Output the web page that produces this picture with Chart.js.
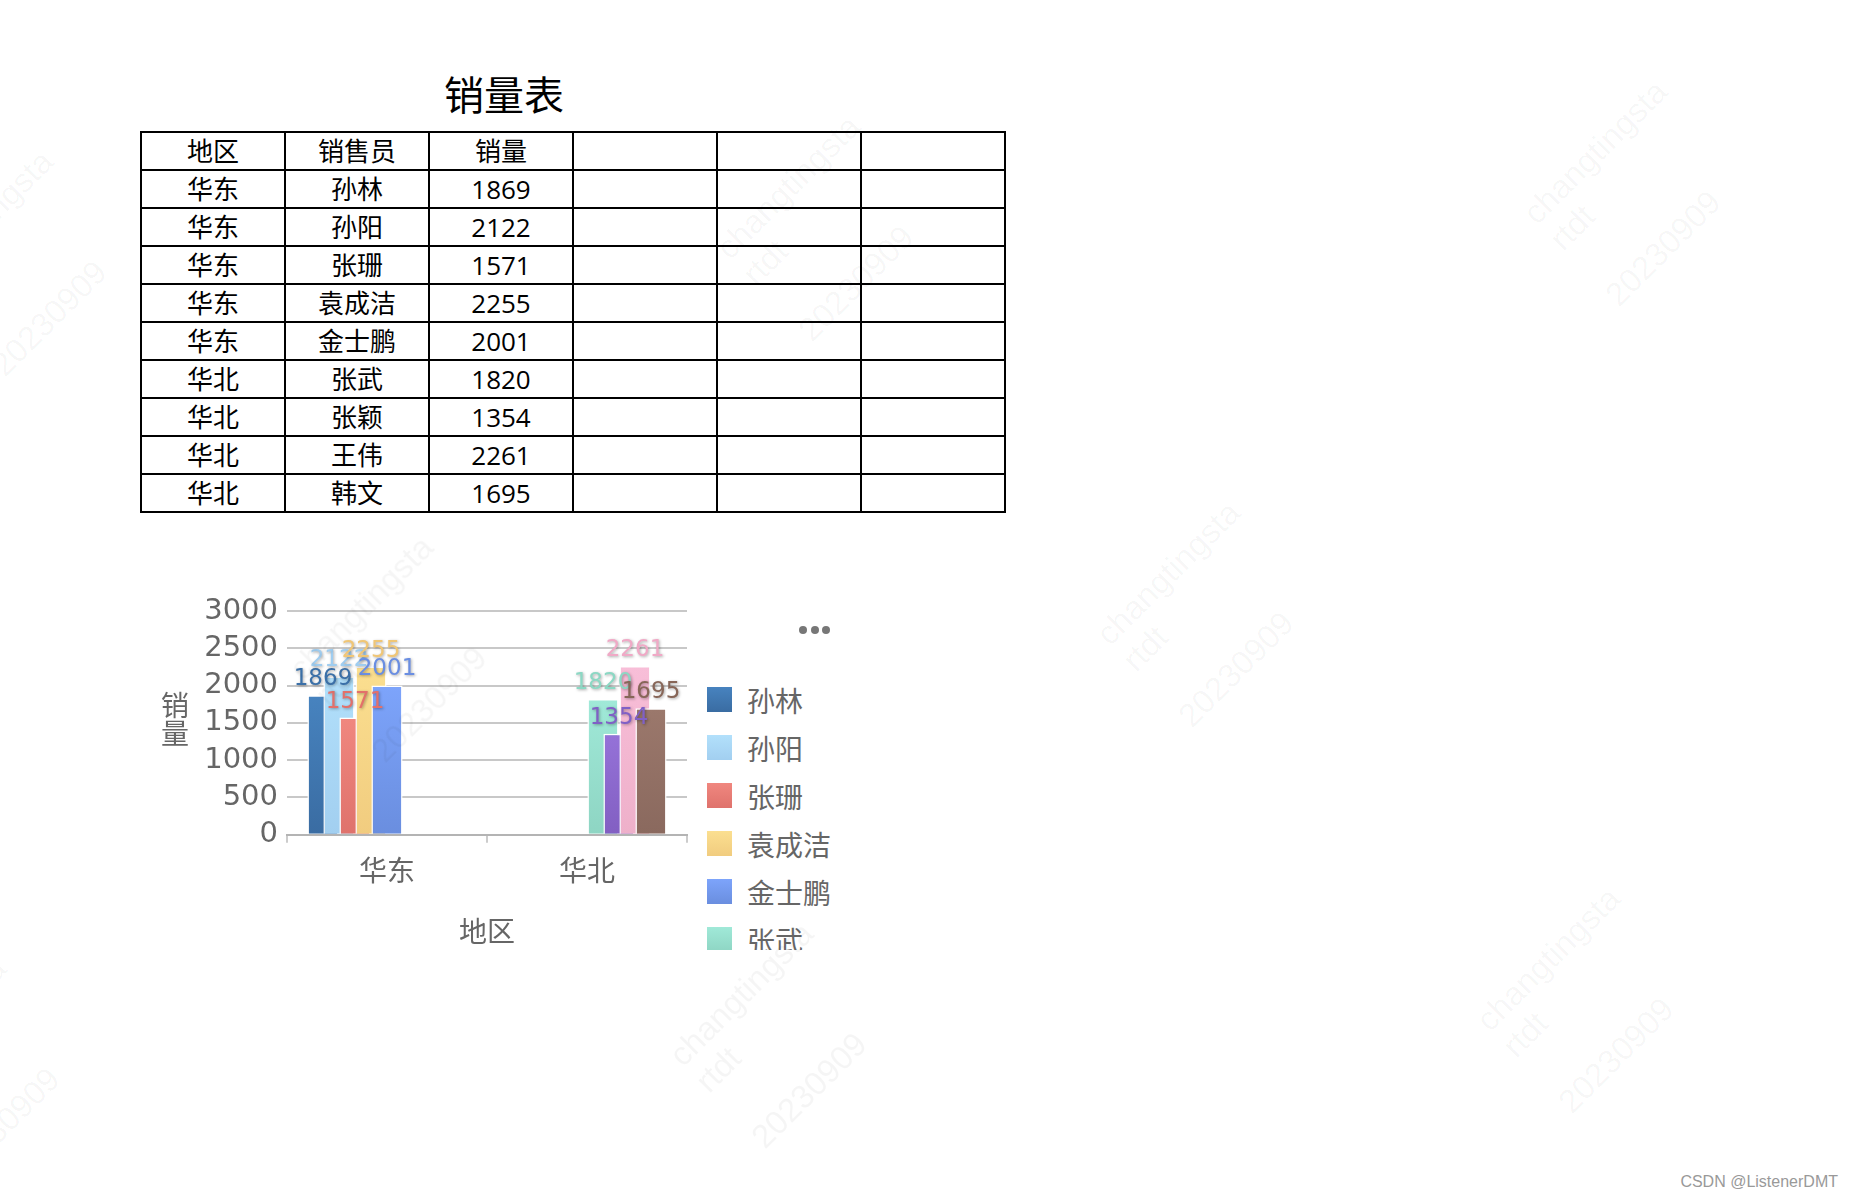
<!DOCTYPE html>
<html>
<head>
<meta charset="utf-8">
<script src="https://cdn.jsdelivr.net/npm/chart.js@4/dist/chart.umd.min.js"></script>
<style>
  html, body { margin: 0; padding: 0; background: #fff; }
  body { width: 1852px; height: 1198px; position: relative; overflow: hidden; }
  #title { position: absolute; left: 404px; top: 73px; width: 200px; text-align: center;
           font: 40px/40px "Noto Sans CJK SC", sans-serif; color: #000; }
  #sheet { position: absolute; left: 140px; top: 131px; border-collapse: collapse; table-layout: fixed; }
  #sheet td { border: 2px solid #000; width: 142px; height: 36px; padding: 0; text-align: center;
              font: 26px/36px "Open Sans", "Noto Sans CJK SC", sans-serif; color: #000; }
  #chart { position: absolute; left: 140px; top: 590px; }
  #ytitle { position: absolute; left: 161px; top: 691px; writing-mode: vertical-rl; text-orientation: upright;
            font: 28px/28px "Noto Sans CJK SC", sans-serif; color: #666; }
  #legend { position: absolute; left: 700px; top: 676px; width: 160px; height: 274px; overflow: hidden; }
  #legend div { height: 48px; position: relative; }
  #legend span.box { position: absolute; left: 7px; top: 11px; width: 25px; height: 25px; }
  #legend span.txt { position: absolute; left: 47px; top: 0; font: 28px/48px "Noto Sans CJK SC", sans-serif; color: #666; }
  #more { position: absolute; left: 799px; top: 620px; }
  #more i { display: inline-block; width: 8px; height: 8px; border-radius: 4px; background: #777; margin-right: 3.7px; }
  .wm { position: absolute; transform-origin: 0 0; transform: rotate(-45deg); pointer-events: none; z-index: 10; }
  .wm span { position: absolute; left: 0; white-space: nowrap; font: 33px/33px "Liberation Sans", sans-serif; color: rgba(0,0,0,0.04); }
  #credit { position: absolute; right: 14px; top: 1173px; font: 16px "Liberation Sans", sans-serif; color: #999; }
</style>
</head>
<body>
<div id="title">销量表</div>
<table id="sheet"></table>
<canvas id="chart" width="560" height="400"></canvas>
<div id="ytitle">销量</div>
<div id="more"><i></i><i></i><i></i></div>
<div id="legend"></div>
<div id="credit">CSDN @ListenerDMT</div>
<script>
// table / chart data
let header = ['地区', '销售员', '销量'];
let regions = ['华东', '华东', '华东', '华东', '华东', '华北', '华北', '华北', '华北'];
let sellers = ['孙林', '孙阳', '张珊', '袁成洁', '金士鹏', '张武', '张颖', '王伟', '韩文'];
let sales = [1869, 2122, 1571, 2255, 2001, 1820, 1354, 2261, 1695];
let categories = ['华东', '华北'];
let yTicks = [0, 500, 1000, 1500, 2000, 2500, 3000];

// colours, one per seller
let fillTop = ['#4783bf', '#b2e0fb', '#f0877f', '#fbdf90', '#7da4fb', '#a0e9d8', '#9572d8', '#f8bed8', '#9b786c'];
let fillBottom = ['#3a6ca2', '#a2cff0', '#df726c', '#f1cc7f', '#6a8edf', '#8ed5c3', '#825fc2', '#eeb0ca', '#8a695e'];
let labelColors = ['#3b70a8', '#9fcdf0', '#e3706a', '#f0c676', '#6a8ee2', '#8cd8c4', '#8060c6', '#f0a9c6', '#876658'];

// watermark
let wmPoints = [[730, 261], [1537, 226], [1110, 647], [303, 682], [683, 1068], [1490, 1033], [-77, 296], [-124, 1103]];
let wmLines = ['changtingsta', 'rtdt', '20230909'];
let wmOffsets = [-28, 9, 88];

document.addEventListener('DOMContentLoaded', function() {

    let table = document.getElementById('sheet');
    let rows = [header].concat(sellers.map((s, i) => [regions[i], s, sales[i]]));
    rows.forEach(r => {
        let tr = document.createElement('tr');
        for (let c = 0; c < 6; c++) {
            let td = document.createElement('td');
            td.textContent = r[c] !== undefined ? r[c] : '';
            tr.appendChild(td);
        }
        table.appendChild(tr);
    });

    // the legend box only has room for the first six entries (the sixth is cut)
    let legend = document.getElementById('legend');
    let shown = Math.ceil(legend.clientHeight / 48);
    sellers.slice(0, shown).forEach((s, i) => {
        let item = document.createElement('div');
        item.innerHTML = '<span class="box" style="background:linear-gradient(' + fillTop[i] + ',' + fillBottom[i] + ')"></span>' +
                         '<span class="txt">' + s + '</span>';
        legend.appendChild(item);
    });

    wmPoints.forEach(p => {
        let g = document.createElement('div');
        g.className = 'wm';
        g.style.left = p[0] + 'px';
        g.style.top = p[1] + 'px';
        wmLines.forEach((t, k) => {
            let sp = document.createElement('span');
            sp.textContent = t;
            sp.style.top = wmOffsets[k] + 'px';
            g.appendChild(sp);
        });
        document.body.appendChild(g);
    });

    function barFill(i) {
        return function(ctx) {
            let chart = ctx.chart;
            let y = chart.scales.y;
            if (!y || ctx.raw == null || !chart.chartArea) return fillTop[i];
            let g = chart.ctx.createLinearGradient(0, y.getPixelForValue(ctx.raw), 0, y.getPixelForValue(0));
            g.addColorStop(0, fillTop[i]);
            g.addColorStop(1, fillBottom[i]);
            return g;
        };
    }

    // later sellers are painted over earlier ones
    const forwardOrder = {
        id: 'forwardOrder',
        beforeDatasetsDraw(chart) {
            chart.getSortedVisibleDatasetMetas().forEach(meta => meta.controller.draw());
            return false;
        }
    };

    const valueLabels = {
        id: 'valueLabels',
        afterDraw(chart) {
            let c = chart.ctx;
            c.save();
            c.font = '23px "DejaVu Sans"';
            c.textAlign = 'center';
            c.textBaseline = 'alphabetic';
            c.shadowColor = 'rgba(0,0,0,0.35)';
            c.shadowBlur = 3;
            c.shadowOffsetX = 1;
            c.shadowOffsetY = 1;
            chart.data.datasets.forEach((ds, i) => {
                chart.getDatasetMeta(i).data.forEach((bar, j) => {
                    if (ds.data[j] == null) return;
                    c.fillStyle = labelColors[i];
                    c.fillText(String(ds.data[j]), bar.x, bar.y - 10);
                });
            });
            c.restore();
        }
    };

    let datasets = sellers.map((s, i) => ({
        label: s,
        data: categories.map(cat => regions[i] === cat ? sales[i] : null),
        backgroundColor: barFill(i),
        borderColor: '#ffffff',
        borderWidth: 1.5,
        categoryPercentage: 0.72,
        barPercentage: 1.95
    }));

    let ctx = document.getElementById('chart').getContext('2d');
    let myChart = new Chart(ctx, {
        type: 'bar',
        data: { labels: categories, datasets: datasets },
        plugins: [forwardOrder, valueLabels],
        options: {
            responsive: false,
            animation: false,
            layout: { padding: { top: 21, right: 13, left: 0, bottom: 0 } },
            plugins: { legend: { display: false }, tooltip: { enabled: false } },
            scales: {
                x: {
                    afterFit: scale => { scale.height = 155.3; },
                    grid: { display: true, drawOnChartArea: false, drawTicks: true, tickLength: 8, color: '#cccccc', lineWidth: 2, offset: true },
                    border: { display: true, color: '#b4b4b4', width: 2 },
                    ticks: { color: '#666', padding: 11, font: { family: '"Noto Sans CJK SC"', size: 28 } },
                    title: { display: true, text: '地区', color: '#666', padding: { top: 0, bottom: 41.5 },
                             font: { family: '"Noto Sans CJK SC"', size: 28 } }
                },
                y: {
                    min: 0,
                    max: 3000,
                    afterFit: scale => {
                        scale.width = 147;
                        scale.paddingTop = 0;
                        scale.paddingBottom = 0;
                    },
                    afterBuildTicks: scale => { scale.ticks = yTicks.map(v => ({ value: v })); },
                    grid: { color: '#c8c8c8', lineWidth: 2, drawTicks: false },
                    border: { display: false },
                    ticks: {
                        color: '#666',
                        padding: 9,
                        autoSkip: false,
                        callback: v => String(v),
                        font: { family: '"DejaVu Sans"', size: 29 }
                    }
                }
            }
        }
    });
});
</script>
</body>
</html>
